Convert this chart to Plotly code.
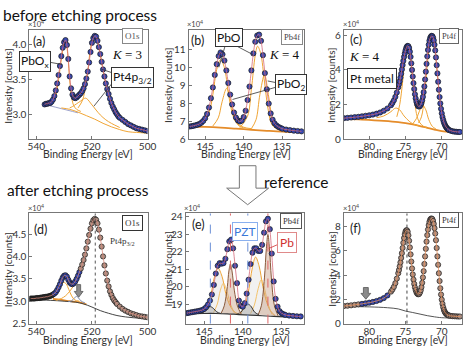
import plotly.graph_objects as go

W, H = 474, 352
SANS = "Lato, 'Liberation Sans', sans-serif"
SERIF = "'Liberation Serif', 'DejaVu Serif', serif"


def seg(a, b, step):
    n = int(round((a - b) / step)) + 1
    return [round(a - i * step, 3) for i in range(n)]


# ---------------- (a) O1s before etching ----------------
a_energy = seg(537, 510.5, 0.5) + seg(510, 500, 1)
a_counts = [3.15, 3.16, 3.16, 3.17, 3.17, 3.19, 3.22, 3.27, 3.35, 3.45,
            3.57, 3.70, 3.84, 3.96, 4.04, 4.07, 4.00, 3.80, 3.55, 3.38,
            3.29, 3.25, 3.24, 3.25, 3.27, 3.29, 3.31, 3.34, 3.38, 3.44,
            3.52, 3.62, 3.75, 3.90, 4.03, 4.10, 4.13, 4.12, 4.06, 3.97,
            3.87, 3.76, 3.65, 3.55, 3.45, 3.37, 3.30, 3.23, 3.17, 3.12,
            3.08, 3.04, 3.01, 2.98,
            2.96, 2.93, 2.90, 2.87, 2.85, 2.83, 2.81, 2.80, 2.79, 2.78, 2.77]
a_bg_E = [537, 535, 533, 531, 529, 527, 525]
a_bg_I = [3.14, 3.13, 3.11, 3.09, 3.07, 3.05, 3.03]
a_broad_E = [531, 528, 525, 522, 519, 516, 513, 510, 507, 504, 500]
a_broad_I = [3.10, 3.08, 3.04, 2.99, 2.94, 2.88, 2.83, 2.79, 2.76, 2.75, 2.74]
a_pbox_E = [537, 535, 533.5, 532.5, 531.5, 530.5, 530, 529.6, 529.2, 528.6, 528, 527.3, 526.5, 525.5, 524]
a_pbox_I = [3.13, 3.14, 3.20, 3.37, 3.65, 3.93, 4.03, 4.06, 4.02, 3.82, 3.50, 3.25, 3.13, 3.08, 3.05]
a_sat_E = [528, 527, 525.5, 524, 523, 522.3, 521.5, 520.5, 519.5, 518.5, 517, 515, 513, 510]
a_sat_I = [3.10, 3.12, 3.16, 3.20, 3.23, 3.24, 3.22, 3.17, 3.12, 3.07, 3.00, 2.93, 2.88, 2.82]
a_pt_E = [525, 523.5, 522.5, 521.5, 520.5, 519.5, 518.8, 518, 517, 516, 515, 514, 513, 512, 510, 507, 504, 500]
a_pt_I = [3.10, 3.20, 3.35, 3.62, 3.95, 4.10, 4.12, 4.05, 3.86, 3.64, 3.44, 3.28, 3.15, 3.06, 2.94, 2.84, 2.78, 2.75]

# ---------------- (b) Pb4f before etching ----------------
b_energy = seg(147, 135, 0.25) + seg(134.5, 132.5, 0.5)
b_counts = [6.72, 6.74, 6.76, 6.79, 6.82, 6.86, 6.93, 7.03, 7.18, 7.42,
            7.78, 8.30, 8.90, 9.60, 10.20, 10.65, 10.85, 10.75, 10.40, 9.85,
            9.15, 8.50, 7.95, 7.50, 7.22, 7.06, 7.00, 7.05, 7.25, 7.60,
            8.20, 8.95, 9.85, 10.80, 11.45, 11.80, 11.85, 11.50, 10.70, 9.70,
            8.80, 8.00, 7.45, 7.10, 6.90, 6.78, 6.70, 6.65, 6.60,
            6.55, 6.52, 6.49, 6.47, 6.45]
b_bg_E = [147, 145, 143, 141, 139, 137, 135, 132.5]
b_bg_I = [6.72, 6.70, 6.66, 6.60, 6.54, 6.48, 6.43, 6.40]
b_pbo1_E = [145.5, 144.5, 144.0, 143.5, 143.0, 142.5, 142.0, 141.5, 141.0, 140.0, 139.0]
b_pbo1_I = [6.85, 7.5, 8.5, 9.9, 10.45, 10.0, 8.6, 7.5, 6.95, 6.68, 6.6]
b_pbo2_E = [140.5, 139.5, 139.0, 138.5, 138.2, 137.8, 137.3, 136.8, 136.3, 135.5, 134.5]
b_pbo2_I = [6.65, 7.3, 8.8, 10.7, 11.2, 10.8, 9.2, 7.6, 6.8, 6.55, 6.48]
b_ox1_E = [144, 143.3, 142.8, 142.2, 141.7, 141.2, 140.6, 140]
b_ox1_I = [6.75, 7.2, 8.1, 8.85, 8.2, 7.2, 6.75, 6.65]
b_ox2_E = [139, 138.4, 137.9, 137.3, 136.8, 136.3, 135.8, 135.2]
b_ox2_I = [6.6, 7.1, 8.5, 9.6, 8.5, 7.2, 6.65, 6.52]

# ---------------- (c) Pt4f before etching ----------------
c_energy = seg(83.5, 77, 0.5) + seg(76.8, 76.0, 0.2) + seg(75.9, 69.0, 0.1) + seg(68.75, 67.5, 0.25)
c_counts = [1.22, 1.24, 1.26, 1.28, 1.30, 1.33, 1.36, 1.39, 1.43, 1.48, 1.55, 1.65, 1.78, 1.97,
            2.10, 2.25, 2.45, 2.70, 3.00,
            3.17, 3.35, 3.56, 3.78, 4.03, 4.28, 4.52, 4.75, 4.95, 5.12,
            5.26, 5.35, 5.38, 5.36, 5.26, 5.05, 4.75, 4.38, 4.00, 3.62,
            3.24, 2.90, 2.60, 2.36, 2.17, 2.03, 1.94, 1.90, 1.90, 1.93,
            2.00, 2.10, 2.25, 2.45, 2.72, 3.05, 3.45, 3.90, 4.35, 4.78,
            5.15, 5.45, 5.68, 5.83, 5.92, 5.96, 5.94, 5.86, 5.70, 5.45,
            5.12, 4.72, 4.27, 3.80, 3.32, 2.86, 2.44, 2.07, 1.76, 1.50,
            1.29, 1.12, 0.98, 0.87, 0.78, 0.71, 0.65, 0.61, 0.57, 0.54,
            0.50, 0.47, 0.45, 0.44, 0.43, 0.43]
c_bg_E = [83.5, 81, 78, 76, 75, 74, 73, 72, 71, 70, 69, 67.5]
c_bg_I = [1.18, 1.14, 1.07, 1.00, 0.94, 0.86, 0.77, 0.67, 0.57, 0.48, 0.43, 0.42]
c_sat_E = [79, 78, 77, 76.5, 76.2, 75.8, 75.2, 74.5, 74, 73]
c_sat_I = [1.25, 1.35, 1.6, 1.78, 1.8, 1.7, 1.35, 1.05, 0.9, 0.76]
c_p52_E = [76.2, 75.8, 75.4, 75.1, 74.75, 74.4, 74.1, 73.8, 73.5, 73.1, 72.5, 72]
c_p52_I = [1.3, 2.0, 3.3, 4.6, 5.3, 4.9, 3.8, 2.5, 1.5, 1.0, 0.75, 0.65]
c_small_E = [74, 73.5, 73.0, 72.6, 72.2, 71.8, 71.3, 70.8]
c_small_I = [0.9, 1.2, 1.7, 1.95, 1.7, 1.15, 0.75, 0.6]
c_p72_E = [73.2, 72.8, 72.4, 72.0, 71.6, 71.35, 71.0, 70.7, 70.4, 70.1, 69.8, 69.4, 69.0, 68]
c_p72_I = [0.95, 1.3, 2.4, 4.3, 5.6, 5.9, 5.4, 4.2, 2.8, 1.7, 1.05, 0.62, 0.5, 0.44]

# ---------------- (d) O1s after etching ----------------
d_energy = seg(542, 511, 0.5) + seg(510, 500, 1)
d_counts = [3.06, 3.06, 3.06, 3.06, 3.07, 3.07, 3.07, 3.08, 3.08, 3.09,
            3.09, 3.10, 3.10, 3.11, 3.12, 3.13, 3.15, 3.17, 3.20, 3.25,
            3.31, 3.38, 3.46, 3.53, 3.57, 3.58, 3.55, 3.48, 3.42, 3.39,
            3.38, 3.40, 3.44, 3.50, 3.57, 3.65, 3.73, 3.82, 3.92, 4.04,
            4.18, 4.33, 4.48, 4.62, 4.74, 4.81, 4.84, 4.82, 4.74, 4.60,
            4.42, 4.22, 4.00, 3.80, 3.62, 3.46, 3.33, 3.22, 3.14, 3.07,
            3.02, 2.98, 2.94,
            2.88, 2.83, 2.79, 2.76, 2.73, 2.71, 2.69, 2.67, 2.66, 2.65, 2.64]
d_bg_E = [542, 535, 530, 526, 523, 520, 517, 514, 511, 508, 505, 502, 500]
d_bg_I = [3.03, 3.02, 3.00, 2.98, 2.94, 2.87, 2.79, 2.73, 2.68, 2.65, 2.63, 2.62, 2.61]
d_obg_E = [534, 531, 528, 525, 522]
d_obg_I = [3.05, 3.03, 3.00, 2.98, 2.93]
d_o1s_E = [536, 534, 532.5, 531.3, 530.3, 529.3, 528.3, 527.3, 526.2, 524.5]
d_o1s_I = [3.05, 3.09, 3.19, 3.33, 3.42, 3.39, 3.26, 3.12, 3.03, 3.00]
d_tail_E = [533, 531, 529.5, 528, 526.8, 525.8, 524.8]
d_tail_I = [3.02, 3.06, 3.12, 3.22, 3.33, 3.45, 3.58]
d_gray_E = [528.5, 527.3, 526.3, 525.6, 524.9, 524, 522.5]
d_gray_I = [2.99, 3.01, 3.07, 3.11, 3.08, 3.01, 2.96]
d_line_E = 518.8

# ---------------- (e) Pb4f after etching ----------------
e_energy = seg(147.25, 134.5, 0.25) + seg(134.0, 132.5, 0.5)
e_counts = [18.48, 18.50, 18.52, 18.54, 18.56, 18.58, 18.60, 18.63, 18.66, 18.72,
            18.82, 18.98, 19.20, 19.55, 20.10, 20.75, 21.20, 21.35, 21.32, 21.35,
            21.60, 22.15, 22.60, 22.70, 22.20, 21.20, 20.20, 19.20, 18.90, 18.85,
            19.05, 19.60, 20.40, 21.30, 21.95, 22.20, 22.20, 22.05, 22.05, 22.40,
            23.10, 23.75, 23.90, 23.30, 21.90, 20.30, 19.30, 18.85, 18.60, 18.48,
            18.42, 18.38,
            18.34, 18.32, 18.30, 18.29]
e_bg_E = [147.25, 145, 143.5, 142, 140.5, 139, 137.5, 136, 134.5, 132.5]
e_bg_I = [18.44, 18.46, 18.46, 18.44, 18.40, 18.37, 18.33, 18.29, 18.27, 18.26]
e_gray1_E = [145.6, 145.0, 144.6, 144.2, 143.8, 143.4, 142.8]
e_gray1_I = [18.46, 18.58, 18.75, 18.85, 18.75, 18.56, 18.45]
e_gray2_E = [140.8, 140.2, 139.8, 139.35, 138.9, 138.5, 137.9]
e_gray2_I = [18.42, 18.55, 18.85, 19.0, 18.85, 18.55, 18.38]
e_pzt1_E = [145.2, 144.6, 144.1, 143.7, 143.2, 142.7, 142.2, 141.7, 141.2, 140.6]
e_pzt1_I = [18.5, 18.85, 19.6, 20.5, 21.05, 20.6, 19.6, 18.95, 18.6, 18.42]
e_pzt2_E = [140.3, 139.7, 139.2, 138.8, 138.35, 137.9, 137.4, 136.9, 136.4, 135.8]
e_pzt2_I = [18.45, 18.95, 19.9, 21.0, 21.7, 21.2, 20.0, 19.1, 18.6, 18.33]
e_mid1_E = [143.8, 143.3, 142.9, 142.5, 142.1, 141.6, 141.1]
e_mid1_I = [18.5, 19.0, 19.8, 20.2, 19.8, 19.0, 18.5]
e_mid2_E = [139.0, 138.5, 138.0, 137.6, 137.2, 136.7, 136.2]
e_mid2_I = [18.45, 18.95, 19.9, 20.4, 19.9, 18.95, 18.4]
e_pb1_E = [142.8, 142.4, 142.0, 141.8, 141.6, 141.4, 141.1, 140.7, 140.2]
e_pb1_I = [18.48, 18.9, 20.0, 20.9, 21.3, 20.9, 19.8, 18.9, 18.42]
e_pb2_E = [138.0, 137.6, 137.2, 136.95, 136.75, 136.55, 136.3, 135.9, 135.4]
e_pb2_I = [18.4, 18.9, 20.5, 22.2, 23.0, 22.2, 20.5, 18.9, 18.3]
e_pzt_lines = [144.2, 139.35]
e_pb_lines = [141.6, 136.75]

# ---------------- (f) Pt4f after etching ----------------
f_energy = seg(83.5, 77, 0.5) + seg(76.8, 76.0, 0.2) + seg(75.9, 69.0, 0.1) + seg(68.75, 67.5, 0.25)
f_counts = [1.42, 1.45, 1.48, 1.52, 1.56, 1.60, 1.65, 1.70, 1.76, 1.84, 1.94, 2.08, 2.30, 2.62,
            2.80, 3.02, 3.32, 3.70, 4.15,
            4.42, 4.72, 5.05, 5.42, 5.82, 6.25, 6.68, 7.08, 7.40, 7.62,
            7.72, 7.72, 7.60, 7.30, 6.85, 6.30, 5.72, 5.12, 4.55, 4.05,
            3.62, 3.26, 2.97, 2.75, 2.58, 2.47, 2.41, 2.40, 2.45, 2.56,
            2.74, 3.00, 3.35, 3.80, 4.32, 4.92, 5.55, 6.18, 6.78, 7.32,
            7.78, 8.15, 8.42, 8.60, 8.68, 8.70, 8.65, 8.50, 8.25, 7.90,
            7.45, 6.90, 6.25, 5.55, 4.85, 4.15, 3.50, 2.90, 2.38, 1.95,
            1.60, 1.32, 1.10, 0.95, 0.85, 0.77, 0.72, 0.68, 0.65, 0.63,
            0.60, 0.58, 0.57, 0.56, 0.55, 0.55]
f_bg_E = [83.5, 80, 77.5, 76, 75, 74, 73, 72, 71, 70, 67.5]
f_bg_I = [1.38, 1.35, 1.28, 1.18, 1.00, 0.88, 0.75, 0.62, 0.52, 0.45, 0.42]
f_line_E = 74.8

# ---------------- styles ----------------
BLUE = '#3648b0'
BROWN = '#a88c80'
DARK = '#2e2e2e'
EDGE = '#1a1a1a'
ORANGE = '#f0a535'
ORANGE_BG = '#e58c2a'
FIT = '#d4697a'
GRAYBLUE = '#9da3cc'
MSIZE = 5.2

panels = {
    'a': dict(ax='', xd=(28, 149), yd=(28, 140), xr=[542.5, 500], yr=[2.65, 4.21],
              xt=[540, 520, 500], yt=[3.0, 3.5, 4.0], yl=['3.0', '3.5', '4.0']),
    'b': dict(ax='2', xd=(191, 309), yd=(28, 140), xr=[147.15, 132.2], yr=[6.0, 12.09],
              xt=[145, 140, 135], yt=[6, 7, 8, 9, 10, 11], yl=['6', '7', '8', '9', '10', '11']),
    'c': dict(ax='3', xd=(350, 471), yd=(28, 140), xr=[83.5, 67.2], yr=[0, 6.28],
              xt=[80, 75, 70], yt=[0, 2, 4, 6], yl=['0', '2', '4', '6']),
    'd': dict(ax='4', xd=(28, 149), yd=(216, 329), xr=[542.5, 500], yr=[2.5, 4.96],
              xt=[540, 520, 500], yt=[2.5, 3.0, 3.5, 4.0, 4.5], yl=['2.5', '3.0', '3.5', '4.0', '4.5']),
    'e': dict(ax='5', xd=(188, 309), yd=(216, 329), xr=[147.4, 132.1], yr=[17.88, 24.2],
              xt=[145, 140, 135], yt=[19, 20, 21, 22, 23, 24], yl=['19', '20', '21', '22', '23', '24']),
    'f': dict(ax='6', xd=(350, 471), yd=(216, 329), xr=[83.5, 67.2], yr=[-0.04, 9.12],
              xt=[80, 75, 70], yt=[0, 2, 4, 6, 8], yl=['0', '2', '4', '6', '8']),
}

fig = go.Figure()


def ids(p):
    s = panels[p]['ax']
    return 'x' + s, 'y' + s


def line(p, xs, ys, color=ORANGE, width=1.0, fill=None, fillcolor=None, dash=None):
    xa, ya = ids(p)
    kw = {}
    if fill:
        kw = dict(fill=fill, fillcolor=fillcolor)
    fig.add_trace(go.Scatter(x=xs, y=ys, mode='lines', xaxis=xa, yaxis=ya, showlegend=False,
                             hoverinfo='skip',
                             line=dict(color=color, width=width, shape='spline', dash=dash), **kw))


def dots(p, xs, ys, colors, size=MSIZE):
    xa, ya = ids(p)
    fig.add_trace(go.Scatter(x=xs, y=ys, mode='markers', xaxis=xa, yaxis=ya, showlegend=False,
                             marker=dict(size=size, color=colors, line=dict(width=0.7, color=EDGE))))


# (a)
line('a', a_bg_E, a_bg_I, GRAYBLUE, 1)
line('a', a_broad_E, a_broad_I, ORANGE, 1)
line('a', a_sat_E, a_sat_I, ORANGE, 1)
line('a', a_pbox_E, a_pbox_I, ORANGE, 1)
line('a', a_pt_E, a_pt_I, ORANGE, 1)
dots('a', a_energy, a_counts, BLUE)
line('a', a_energy, a_counts, FIT, 0.8)

# (b)
line('b', b_bg_E, b_bg_I, ORANGE_BG, 1.8)
line('b', b_ox1_E, b_ox1_I, ORANGE, 1)
line('b', b_ox2_E, b_ox2_I, ORANGE, 1)
line('b', b_pbo1_E, b_pbo1_I, ORANGE, 1)
line('b', b_pbo2_E, b_pbo2_I, ORANGE, 1)
dots('b', b_energy, b_counts, BLUE)
line('b', b_energy, b_counts, FIT, 0.8)

# (c)
line('c', c_bg_E, c_bg_I, ORANGE_BG, 1.8)
line('c', c_sat_E, c_sat_I, ORANGE, 1)
line('c', c_small_E, c_small_I, ORANGE, 1)
line('c', c_p52_E, c_p52_I, ORANGE, 1)
line('c', c_p72_E, c_p72_I, ORANGE, 1)
dots('c', c_energy, c_counts, BLUE)
line('c', c_energy, c_counts, FIT, 0.8)

# (d)
line('d', d_obg_E, d_obg_I, ORANGE_BG, 1.8)
line('d', d_bg_E, d_bg_I, '#444444', 1)
line('d', d_gray_E, d_gray_I, '#7f8db0', 1)
line('d', d_o1s_E, d_o1s_I, ORANGE, 1)
line('d', d_tail_E, d_tail_I, ORANGE, 1)
d_cols = [DARK if e >= 534 else (BLUE if e >= 524.5 else BROWN) for e in d_energy]
dots('d', d_energy, d_counts, d_cols)
line('d', d_energy, d_counts, '#d98c7c', 0.8)

# (e)
line('e', e_pzt1_E, e_pzt1_I, ORANGE, 1, 'toself', 'rgba(200,200,200,0.25)')
line('e', e_pzt2_E, e_pzt2_I, ORANGE, 1, 'toself', 'rgba(200,200,200,0.25)')
line('e', e_mid1_E, e_mid1_I, '#f3c36b', 1)
line('e', e_mid2_E, e_mid2_I, '#f3c36b', 1)
line('e', e_gray1_E, e_gray1_I, '#333333', 1, 'toself', 'rgba(160,160,160,0.45)')
line('e', e_gray2_E, e_gray2_I, '#333333', 1, 'toself', 'rgba(160,160,160,0.45)')
line('e', e_pb1_E, e_pb1_I, '#8a5a3c', 1, 'toself', 'rgba(195,150,120,0.4)')
line('e', e_pb2_E, e_pb2_I, '#8a5a3c', 1, 'toself', 'rgba(195,150,120,0.4)')
line('e', e_bg_E, e_bg_I, '#333333', 1.2)
dots('e', e_energy, e_counts, BLUE)
line('e', e_energy, e_counts, FIT, 0.8)

# (f)
line('f', f_bg_E, f_bg_I, '#555555', 1)
f_cols = [BLUE if 77.5 <= e <= 81 else BROWN for e in f_energy]
dots('f', f_energy, f_counts, f_cols)
line('f', f_energy, f_counts, '#e8905a', 0.8)

# ---------------- axes ----------------
layout = dict(width=W, height=H, margin=dict(l=0, r=0, t=0, b=0),
              paper_bgcolor='white', plot_bgcolor='white',
              font=dict(family=SANS, size=10, color='#333'))
for p, cfg in panels.items():
    s = cfg['ax']
    xd = [cfg['xd'][0] / W, cfg['xd'][1] / W]
    yd = [1 - cfg['yd'][1] / H, 1 - cfg['yd'][0] / H]
    common = dict(showline=True, mirror=True, linecolor='#777', linewidth=1,
                  ticks='inside', ticklen=3, tickcolor='#777', showgrid=False,
                  zeroline=False, tickfont=dict(family=SANS, size=10, color='#333'))
    layout['xaxis' + s] = dict(domain=xd, range=cfg['xr'], anchor='y' + s,
                               tickvals=cfg['xt'], ticktext=[str(v) for v in cfg['xt']],
                               ticklabelstandoff=-2, **common)
    layout['yaxis' + s] = dict(domain=yd, range=cfg['yr'], anchor='x' + s,
                               tickvals=cfg['yt'], ticktext=cfg['yl'], **common)
fig.update_layout(**layout)

# ---------------- annotations ----------------
ann = []


def T(x, y, s, size=12, color='#222', family=SANS, box=False, bcolor='#333', pad=1, angle=0, bw=1):
    d = dict(x=x / W, y=1 - y / H, xref='paper', yref='paper', text=s, showarrow=False,
             font=dict(size=size, color=color, family=family), xanchor='center', yanchor='middle',
             textangle=angle)
    if box:
        d.update(bordercolor=bcolor, borderwidth=bw, borderpad=pad, bgcolor='white')
    ann.append(d)


# titles
T(80, 12, 'before etching process', 15.5, '#111')
T(78, 192, 'after etching process', 15.5, '#111')
T(301, 184, 'reference', 15.5, '#111')

# axis titles
for p, cfg in panels.items():
    xc = (cfg['xd'][0] + cfg['xd'][1]) / 2
    ty = 155 if cfg['yd'][0] < 100 else 345.5
    T(xc, ty, 'Binding Energy [eV]', 10.5, '#333')
    yc = (cfg['yd'][0] + cfg['yd'][1]) / 2 + 1
    xt = {28: 6, 191: 170, 188: 169, 350: 337}[cfg['xd'][0]]
    T(xt, yc, 'Intensity [counts]', 10, '#333', angle=-90)
    T(cfg['xd'][0] + 7, cfg['yd'][0] - 6, '×10<sup>4</sup>', 7.5, '#444')

# panel letters
T(38, 39, '(a)', 12.5)
T(200, 38, '(b)', 12.5)
T(362, 37, '(c)', 12.5)
T(39, 232, '(d)', 12.5)
T(201, 227, '(e)', 12.5)
T(362, 231, '(f)', 12.5)

# element boxes
T(134, 34, 'O1s', 9, '#555', SERIF, True, '#888', 2)
T(297, 35, 'Pb4f', 8.5, '#444', SERIF, True, '#888', 2)
T(458, 34, 'Pt4f', 8.5, '#444', SERIF, True, '#666', 2)
T(134, 226, 'O1s', 9, '#333', SERIF, True, '#333', 2)
T(296, 224, 'Pb4f', 8.5, '#333', SERIF, True, '#555', 2)
T(458, 223, 'Pt4f', 8.5, '#333', SERIF, True, '#555', 2)

# K labels
T(128, 53, '<i>K</i> = 3', 13, '#111', SERIF)
T(289, 53, '<i>K</i> = 4', 13, '#111', SERIF)
T(371, 55, '<i>K</i> = 4', 13, '#111', SERIF)

# peak labels
T(34, 60, 'PbO<sub>x</sub>', 12, '#111', SANS, True, '#333', 1)
T(134, 76, 'Pt4p<sub>3/2</sub>', 12, '#111', SANS, True, '#333', 1)
T(232, 35, 'PbO', 12, '#111', SANS, True, '#333', 1)
T(296, 84, 'PbO<sub>2</sub>', 12, '#111', SANS, True, '#333', 1)
T(379, 77, 'Pt metal', 12, '#111', SANS, True, '#333', 2)
T(123, 245, 'Pt4p<sub>3/2</sub>', 9, '#333', SERIF)
T(249, 234, 'PZT', 12, '#3a78d8', SANS, True, '#8ab0ee', 1)
T(292, 246, 'Pb', 12, '#d03030', SANS, True, '#e08a8a', 2)

fig.update_layout(annotations=ann)

# ---------------- shapes ----------------
shapes = []


def L(x0, y0, x1, y1, color='#333', w=0.8):
    shapes.append(dict(type='line', xref='paper', yref='paper', x0=x0 / W, y0=1 - y0 / H,
                       x1=x1 / W, y1=1 - y1 / H, line=dict(color=color, width=w)))


def poly(pts, fill, color, w=1):
    path = 'M ' + ' L '.join(f'{x / W:.5f},{1 - y / H:.5f}' for x, y in pts) + ' Z'
    shapes.append(dict(type='path', xref='paper', yref='paper', path=path,
                       fillcolor=fill, line=dict(color=color, width=w)))


# leader lines
L(50, 61, 61, 63)
L(117, 73, 102, 68)
L(117, 77, 94, 106)
L(229, 42, 222, 66)
L(236, 42, 257, 53)
L(282, 82, 272, 80)
L(282, 86, 236, 99)
L(282, 248, 273, 252, '#d03030')

# big reference arrow
poly([(243, 167), (260, 167), (260, 190), (273, 190), (251.5, 207), (230, 190), (243, 190)],
     'white', '#777', 1)
# small gray arrows
poly([(76.5, 289), (80.5, 289), (80.5, 296), (83, 296), (78.5, 302), (74, 296), (76.5, 296)],
     '#8a8a8a', '#555', 0.8)
poly([(370, 292), (375, 292), (375, 298), (377.5, 298), (372.5, 304), (367.5, 298), (370, 298)],
     '#8a8a8a', '#555', 0.8)


def V(p, xv, color, dash):
    s = panels[p]['ax']
    shapes.append(dict(type='line', xref='x' + s, yref='y' + s + ' domain', x0=xv, x1=xv, y0=0, y1=1,
                       line=dict(color=color, width=1, dash=dash), layer='above'))


V('d', d_line_E, '#555', 'dot')
V('f', f_line_E, '#444', 'dot')
for xv in e_pzt_lines:
    V('e', xv, '#6b8fd6', 'dash')
for xv in e_pb_lines:
    V('e', xv, '#e06666', 'dash')

fig.update_layout(shapes=shapes)
fig.write_html('out.html')
